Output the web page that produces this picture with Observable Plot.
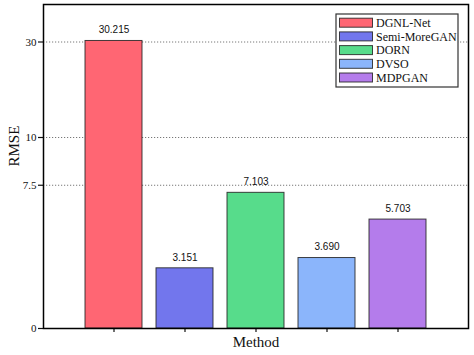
<!DOCTYPE html>
<html>
<head>
<meta charset="utf-8">
<script src="https://cdn.jsdelivr.net/npm/d3@7"></script>
<script src="https://cdn.jsdelivr.net/npm/@observablehq/plot@0.6"></script>
<style>
  html, body { margin: 0; padding: 0; background: #fff; }
</style>
</head>
<body>
<div id="chart"></div>
<script>
const methods = ["DGNL-Net", "Semi-MoreGAN", "DORN", "DVSO", "MDPGAN"];
const rmse = [30.215, 3.151, 7.103, 3.690, 5.703];
const valueLabels = ["30.215", "3.151", "7.103", "3.690", "5.703"];
const colors = ["#ff6673", "#7276ed", "#57dc8b", "#8bb5fb", "#b47ceb"];
const yTicks = [0, 7.5, 10, 30];
const gridTicks = [7.5, 10, 30];
const xLabel = "Method";
const yLabel = "RMSE";

const data = methods.map((m, i) => ({method: m, rmse: rmse[i], label: valueLabels[i]}));

const W = 474, H = 355;
const mL = 43, mR = 6, mT = 4, mB = 27;
const serif = "'Liberation Serif', 'DejaVu Serif', serif";

const chart = Plot.plot({
  width: W,
  height: H,
  marginLeft: mL,
  marginRight: mR,
  marginTop: mT,
  marginBottom: mB,
  style: {fontFamily: serif, fontSize: "11px", background: "#fff", color: "#111"},
  x: {type: "band", domain: methods, paddingInner: 0.2, paddingOuter: 0.59, label: null},
  y: {type: "linear", domain: [0, 10, 30], range: [H - mB, 137, 41.5], label: null},
  color: {domain: methods, range: colors},
  marks: [
    Plot.gridY(gridTicks, {stroke: "#555", strokeOpacity: 1, strokeWidth: 0.8, strokeDasharray: "1.2,1.8"}),
    Plot.barY(data, {x: "method", y: "rmse", fill: "method", stroke: "#222", strokeOpacity: 0.85, strokeWidth: 1}),
    Plot.text(data, {x: "method", y: "rmse", text: "label", dy: -11, fontFamily: "'Liberation Sans', Arial, sans-serif", fontSize: 10, fill: "#111"}),
    Plot.axisY({ticks: yTicks, tickSize: 5, tickPadding: 2, tickFormat: d => String(d), label: null, fontSize: 11, strokeWidth: 1.2}),
    Plot.axisX({tickSize: 4, tickFormat: () => "", label: null, strokeWidth: 1.2}),
    Plot.frame({stroke: "#000", strokeWidth: 1.5}),
    Plot.text([xLabel], {frameAnchor: "bottom", dy: 18, fontSize: 15, fontFamily: serif, fill: "#111"}),
    Plot.text([yLabel], {frameAnchor: "left", dx: -29, rotate: -90, fontSize: 15, fontFamily: serif, fill: "#111"})
  ]
});

document.getElementById("chart").appendChild(chart);

// Legend inside the plot, upper right
const svg = d3.select(chart);
const lg = svg.append("g").attr("transform", "translate(336,14)").attr("text-anchor", "start");
lg.append("rect").attr("x", 0).attr("y", 0).attr("width", 122).attr("height", 73)
  .attr("fill", "#fff").attr("stroke", "#333").attr("stroke-width", 1.2);
methods.forEach((m, i) => {
  const cy = 8.7 + i * 13.7;
  lg.append("rect").attr("x", 3.5).attr("y", cy - 4.5).attr("width", 33).attr("height", 9)
    .attr("fill", colors[i]).attr("stroke", "#222").attr("stroke-opacity", 0.85).attr("stroke-width", 1);
  lg.append("text").attr("x", 40).attr("y", cy).attr("dy", "0.35em").attr("text-anchor", "start")
    .attr("font-family", serif).attr("font-size", 12).attr("fill", "#111").text(m);
});
</script>
</body>
</html>
